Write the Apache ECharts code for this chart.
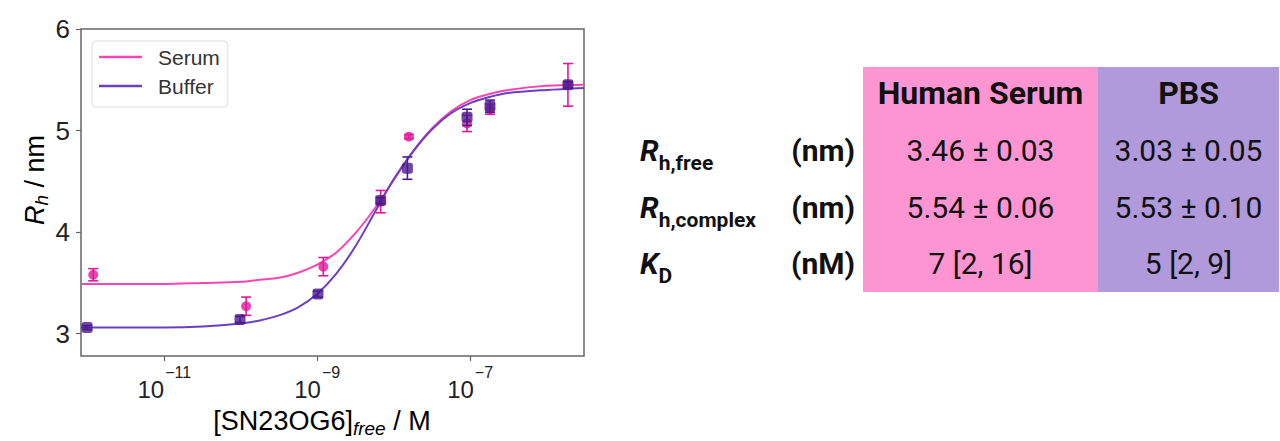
<!DOCTYPE html>
<html>
<head>
<meta charset="utf-8">
<script src="https://cdn.jsdelivr.net/npm/echarts@6/dist/echarts.min.js"></script>
<style>
  html, body { margin:0; padding:0; background:#fff; }
  #chart { position:absolute; left:0; top:0; width:1280px; height:441px; }
  .t { position:absolute; font-family: Roboto, "Liberation Sans", sans-serif; color:#111; white-space:nowrap; }
  .bg { position:absolute; }
</style>
</head>
<body>
<div id="chart"></div>
<div id="table"></div>
<script>
// ---------- data ----------
// x values are log10 of [SN23OG6]free in M
const serumX   = [-11.93, -9.93, -8.92, -8.17, -7.80, -7.04, -6.74, -5.72];
const serumY   = [3.58, 3.27, 3.66, 4.30, 4.94, 5.07, 5.21, 5.45];
const serumErr = [0.06, 0.09, 0.09, 0.11, 0.02, 0.08, 0.05, 0.21];

const bufferX   = [-12.01, -10.01, -8.99, -8.17, -7.82, -7.04, -6.74, -5.72];
const bufferY   = [3.06, 3.14, 3.39, 4.31, 4.63, 5.13, 5.24, 5.45];
const bufferErr = [0.02, 0.03, 0.03, 0.03, 0.11, 0.08, 0.06, 0.03];

// fitted curves
const curveX      = [-12.09, -11, -10.5, -10, -9.75, -9.5, -9.25, -9, -8.75, -8.5, -8.25, -8, -7.75, -7.5, -7.25, -7, -6.75, -6.5, -6, -5.51];
const serumCurve  = [3.49, 3.49, 3.50, 3.51, 3.53, 3.55, 3.60, 3.68, 3.80, 3.99, 4.23, 4.51, 4.79, 5.02, 5.19, 5.30, 5.36, 5.40, 5.44, 5.45];
const bufferCurve = [3.06, 3.06, 3.07, 3.10, 3.13, 3.18, 3.26, 3.39, 3.59, 3.86, 4.19, 4.52, 4.79, 5.01, 5.17, 5.27, 5.33, 5.37, 5.40, 5.42];

const xTickValues = [-11, -9, -7];
const yTickValues = [3, 4, 5, 6];
const seriesNames = ['Serum', 'Buffer'];

// table
const colHeaders = ['Human Serum', 'PBS'];
const rowMain  = ['R', 'R', 'K'];
const rowSub   = ['h,free', 'h,complex', 'D'];
const rowUnits = ['(nm)', '(nm)', '(nM)'];
const serumTable = ['3.46 ± 0.03', '5.54 ± 0.06', '7 [2, 16]'];
const pbsTable   = ['3.03 ± 0.05', '5.53 ± 0.10', '5 [2, 9]'];

// ---------- chart ----------
const FONT = '"Liberation Sans", Arial, sans-serif';
const C_SERUM_LINE = '#fb45b4', C_SERUM_PT = '#e3169c';
const C_BUF_LINE = '#6b3fc2', C_BUF_PT = '#4b1c8e';

function zip(xs, ys, es) { return xs.map((x, i) => es ? [x, ys[i], es[i]] : [x, ys[i]]); }

function errRender(color) {
  return function (params, api) {
    const x = api.value(0), y = api.value(1), e = api.value(2);
    const t = api.coord([x, y + e]), b = api.coord([x, y - e]);
    const w = 5, st = { stroke: color, lineWidth: 1.6 };
    return { type: 'group', children: [
      { type: 'line', shape: { x1: t[0], y1: t[1], x2: b[0], y2: b[1] }, style: st },
      { type: 'line', shape: { x1: t[0] - w, y1: t[1], x2: t[0] + w, y2: t[1] }, style: st },
      { type: 'line', shape: { x1: b[0] - w, y1: b[1], x2: b[0] + w, y2: b[1] }, style: st }
    ]};
  };
}

const chart = echarts.init(document.getElementById('chart'), null, { renderer: 'svg' });
chart.setOption({
  animation: false,
  grid: { left: 81, right: 696, top: 29, bottom: 85, show: true, borderColor: '#666', borderWidth: 1.5, backgroundColor: '#fff' },
  xAxis: {
    type: 'value', min: -12.09, max: -5.51,
    axisLine: { show: false },
    splitLine: { show: false },
    axisTick: { show: true, length: 5, lineStyle: { color: '#666', width: 1.2 }, customValues: xTickValues },
    axisLabel: {
      customValues: xTickValues, margin: 21, color: '#222', fontFamily: FONT,
      formatter: v => '{b|10}{s|−' + Math.abs(Math.round(v)) + '}',
      rich: {
        b: { fontSize: 24, lineHeight: 24, fontFamily: FONT, color: '#222' },
        s: { fontSize: 16, lineHeight: 16, fontFamily: FONT, color: '#222', padding: [0, 0, 34, 1] }
      }
    }
  },
  yAxis: {
    type: 'value', min: 2.78, max: 6,
    axisLine: { show: false },
    splitLine: { show: false },
    axisTick: { show: true, length: 5, lineStyle: { color: '#666', width: 1.2 }, customValues: yTickValues },
    axisLabel: { customValues: yTickValues, margin: 11, fontSize: 26, color: '#222', fontFamily: FONT }
  },
  legend: {
    data: seriesNames, orient: 'vertical', left: 92, top: 41,
    backgroundColor: '#fff', borderColor: '#dcdcdc', borderWidth: 1, borderRadius: 4,
    padding: [4, 8, 9, 7], itemWidth: 43, itemHeight: 2.5, itemGap: 5, icon: 'rect',
    textStyle: { fontSize: 21, color: '#333', fontFamily: FONT, lineHeight: 24, padding: [0, 0, 0, 11] }
  },
  graphic: [
    { type: 'text', x: 322, y: 421,
      style: { text: '{a|[SN23OG6]}{b|free}{a| / M}', align: 'center', verticalAlign: 'middle',
        rich: { a: { fontSize: 27, fontFamily: FONT, color: '#222' },
                b: { fontSize: 19, fontStyle: 'italic', fontFamily: FONT, color: '#222', padding: [14, 0, 0, 0] } } } },
    { type: 'text', x: 35, y: 180, rotation: Math.PI / 2,
      style: { text: '{r|R}{h|h}{a| / nm}', align: 'center', verticalAlign: 'middle',
        rich: { r: { fontSize: 27, fontStyle: 'italic', fontFamily: FONT, color: '#222' },
                h: { fontSize: 19, fontStyle: 'italic', fontFamily: FONT, color: '#222', padding: [12, 0, 0, 0] },
                a: { fontSize: 27, fontFamily: FONT, color: '#222' } } } }
  ],
  series: [
    { name: 'Serum', type: 'line', data: zip(curveX, serumCurve), smooth: 0.3, symbol: 'none', color: C_SERUM_LINE,
      lineStyle: { width: 2, color: C_SERUM_LINE }, z: 2 },
    { name: 'Buffer', type: 'line', data: zip(curveX, bufferCurve), smooth: 0.3, symbol: 'none', color: C_BUF_LINE,
      lineStyle: { width: 2, color: C_BUF_LINE }, z: 2 },
    { name: 'SerumErr', type: 'custom', data: zip(serumX, serumY, serumErr), encode: { x: 0, y: 1 },
      renderItem: errRender(C_SERUM_PT), z: 3 },
    { name: 'SerumPts', type: 'scatter', data: zip(serumX, serumY), symbol: 'circle', symbolSize: 10,
      itemStyle: { color: C_SERUM_PT }, z: 4 },
    { name: 'BufferErr', type: 'custom', data: zip(bufferX, bufferY, bufferErr), encode: { x: 0, y: 1 },
      renderItem: errRender(C_BUF_PT), z: 5 },
    { name: 'BufferPts', type: 'scatter', data: zip(bufferX, bufferY), symbol: 'roundRect', symbolSize: 11,
      itemStyle: { color: C_BUF_PT }, z: 6 }
  ]
});

// ---------- table ----------
const tbl = document.getElementById('table');
function add(html, css, cls) {
  const d = document.createElement('div');
  d.className = cls || 't';
  d.innerHTML = html;
  Object.assign(d.style, css);
  tbl.appendChild(d);
  return d;
}
const colLeft = [863, 1098], colRight = [1098, 1279];
const colBg = ['#fe95d3', '#b09adb'];
for (let c = 0; c < 2; c++) {
  add('', { left: colLeft[c] + 'px', top: '67px', width: (colRight[c] - colLeft[c]) + 'px', height: '225px', background: colBg[c] }, 'bg');
}
const headerY = 93, rowY = [151, 208, 264];
function centered(text, cx, cy, css) {
  return add(text, Object.assign({ left: (cx - 150) + 'px', width: '300px', textAlign: 'center', top: (cy - 20) + 'px', height: '40px', lineHeight: '40px' }, css));
}
for (let c = 0; c < 2; c++) {
  const cx = (colLeft[c] + colRight[c]) / 2;
  centered(colHeaders[c], cx, headerY, { fontWeight: 'bold', fontSize: '32px' });
  const vals = c === 0 ? serumTable : pbsTable;
  for (let r = 0; r < 3; r++) centered(vals[r], cx, rowY[r], { fontSize: '30px' });
}
for (let r = 0; r < 3; r++) {
  add('<span style="font-style:italic;font-weight:bold;font-size:30px">' + rowMain[r] + '</span>' +
      '<span style="font-weight:bold;font-size:21px;position:relative;top:9px">' + rowSub[r] + '</span>',
      { left: '640px', top: (rowY[r] - 20) + 'px', height: '40px', lineHeight: '40px' });
  add(rowUnits[r], { left: '700px', width: '155px', textAlign: 'right', top: (rowY[r] - 20) + 'px', height: '40px', lineHeight: '40px', fontWeight: 'bold', fontSize: '30px' });
}
</script>
</body>
</html>
